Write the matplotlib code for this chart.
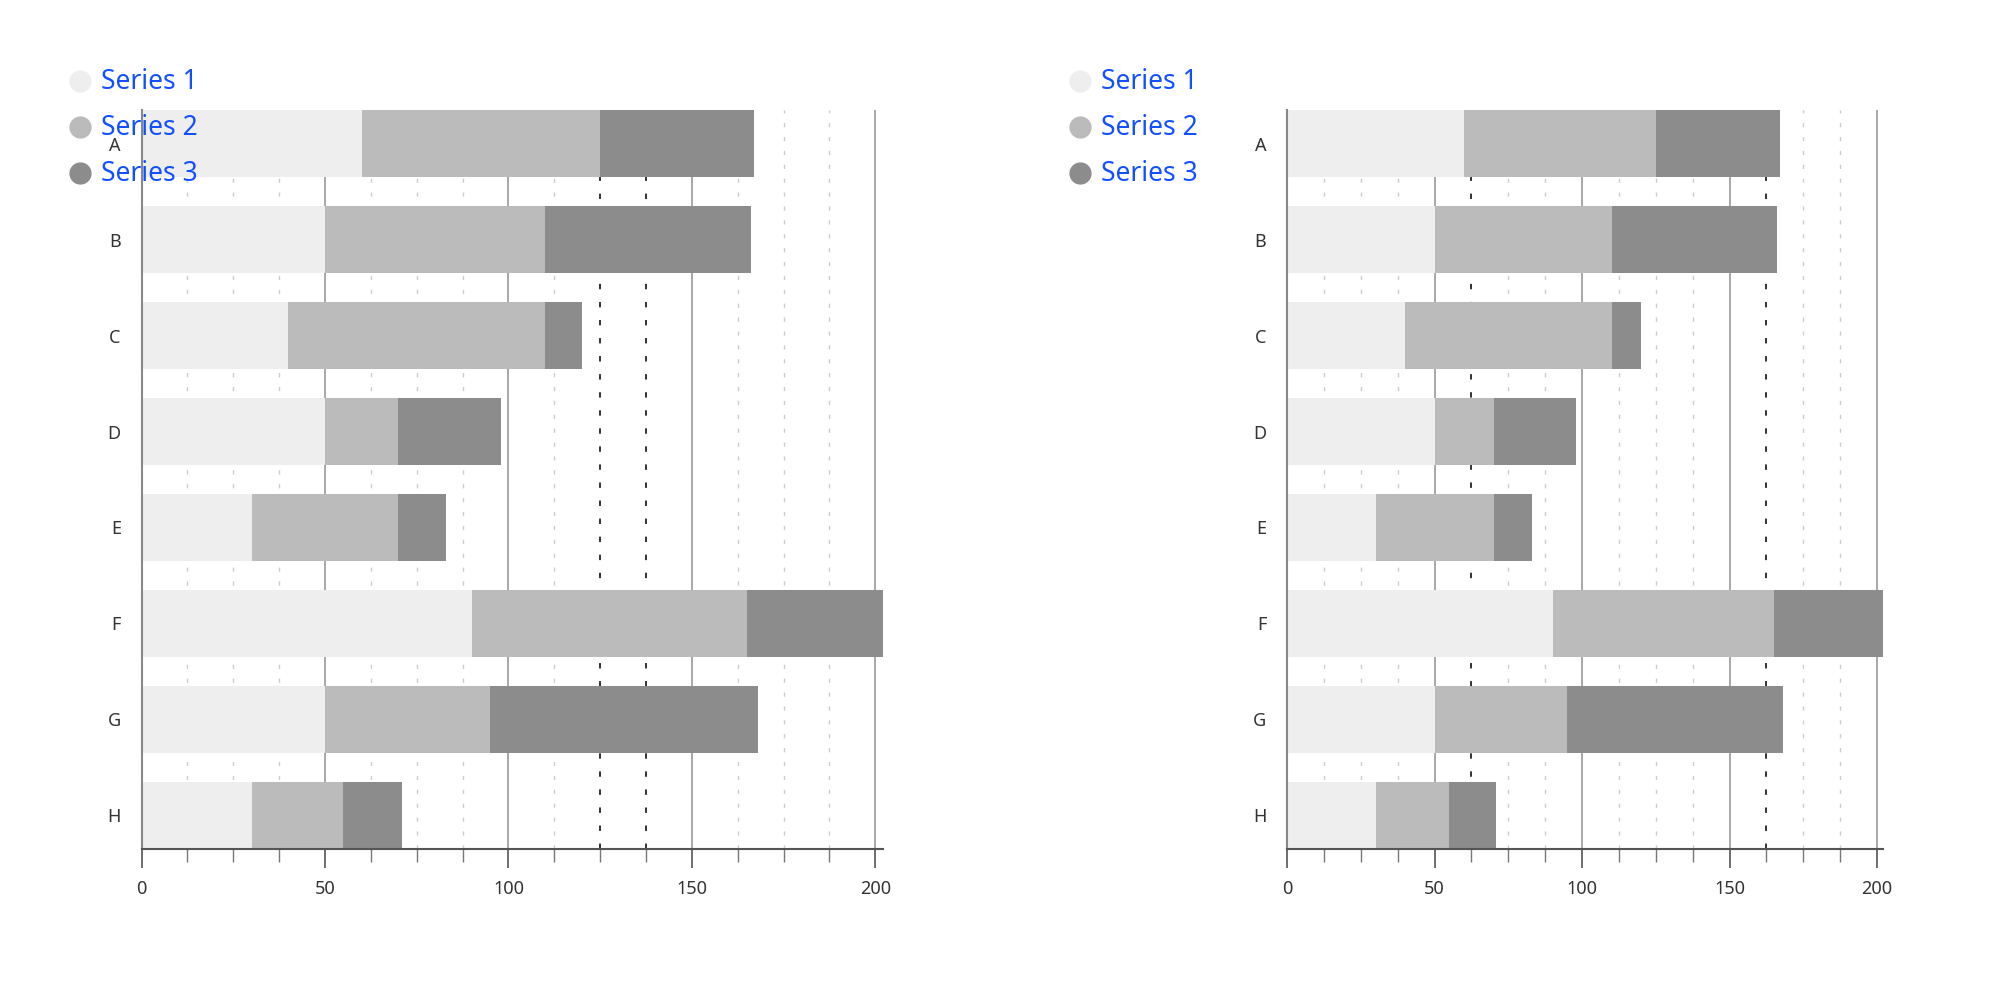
import numpy as np
import matplotlib
matplotlib.use("Agg")
import matplotlib.pyplot as plt
from matplotlib.lines import Line2D

# Data
categories = ["A", "B", "C", "D", "E", "F", "G", "H"]
series_names = ["Series 1", "Series 2", "Series 3"]
series_1 = [60, 50, 40, 50, 30, 90, 50, 30]
series_2 = [65, 60, 70, 20, 40, 75, 45, 25]
series_3 = [42, 56, 10, 28, 13, 37, 73, 16]
x_ticks = [0, 50, 100, 150, 200]
marker_lines_left = [125, 137.5]
marker_lines_right = [62.5, 162.5]

colors = ["#eeeeee", "#bbbbbb", "#8c8c8c"]
legend_color = "#1250ff"
plt.rcParams["font.family"] = ["Noto Sans", "DejaVu Sans"]


def draw_panel(fig, rect, marker_lines, legend_x):
    ax = fig.add_axes(rect)
    y = np.arange(len(categories))
    totals = np.array(series_1) + np.array(series_2) + np.array(series_3)
    xmax = totals.max()

    # grid lines (only show in gaps since bars are opaque)
    minor = np.arange(12.5, xmax, 12.5)
    for v in minor:
        if v in x_ticks:
            continue
        if v in marker_lines:
            ax.axvline(v, color="#222222", lw=1.3, ls=(0, (3, 7)), zorder=0)
        else:
            ax.axvline(v, color="#cccccc", lw=1.0, ls=(0, (3, 7)), zorder=0)
    for v in x_ticks[1:]:
        ax.axvline(v, color="#9a9a9a", lw=1.2, zorder=0)

    left = np.zeros(len(categories))
    for vals, c in zip([series_1, series_2, series_3], colors):
        ax.barh(y, vals, left=left, height=0.7, color=c,
                linewidth=0, zorder=2)
        left += np.array(vals)

    ax.set_ylim(len(categories) - 0.65, -0.35)
    ax.set_xlim(0, xmax)
    ax.set_yticks(y)
    ax.set_yticklabels(categories, fontsize=13, color="#333333")
    ax.tick_params(axis="y", length=0, pad=15)
    ax.set_xticks(x_ticks)
    ax.set_xticklabels([str(t) for t in x_ticks], fontsize=13, color="#333333")
    ax.set_xticks(minor[~np.isin(minor, x_ticks)], minor=True)
    ax.tick_params(axis="x", which="major", length=14, width=1.2,
                   color="#555555", pad=8)
    ax.tick_params(axis="x", which="minor", length=9, width=1.0,
                   color="#777777")
    for s in ["top", "right"]:
        ax.spines[s].set_visible(False)
    ax.spines["bottom"].set_color("#555555")
    ax.spines["bottom"].set_linewidth(1.5)
    ax.spines["left"].set_color("#888888")
    ax.spines["left"].set_linewidth(1.5)

    # legend with circles
    for i, (name, c) in enumerate(zip(series_names, colors)):
        yy = 0.919 - i * 0.046
        fig.add_artist(Line2D([legend_x], [yy], marker="o", markersize=15,
                              color=c, transform=fig.transFigure))
        fig.text(legend_x + 0.0105, yy - 0.001, name, fontsize=19,
                 color=legend_color, va="center", ha="left",
                 transform=fig.transFigure)
    return ax


fig = plt.figure(figsize=(20, 10), dpi=100)
draw_panel(fig, [0.0708, 0.151, 0.3705, 0.739], marker_lines_left, 0.040)
draw_panel(fig, [0.6435, 0.151, 0.298, 0.739], marker_lines_right, 0.540)
fig.savefig("out.png", dpi=100, facecolor="white")
